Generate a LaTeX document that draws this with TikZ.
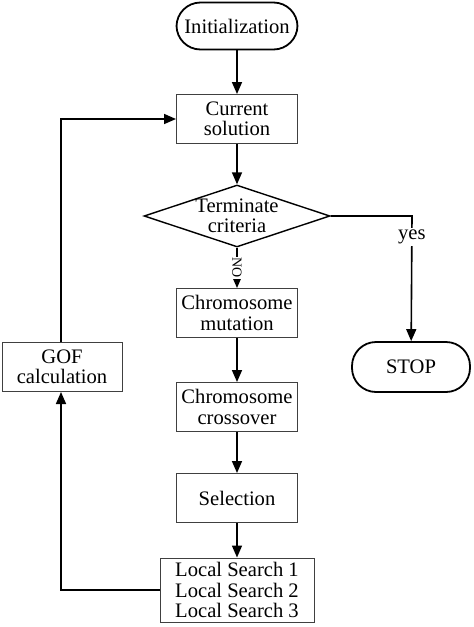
\documentclass[tikz,border=0pt]{standalone}
\usepackage{fontspec}
\setmainfont{Liberation Serif}
\usetikzlibrary{arrows.meta,shapes.geometric}
\tikzset{
  stepbox/.style={draw=black!75, line width=0.5pt, minimum width=60.5pt, minimum height=24.5pt, inner sep=2pt, align=center, font=\fontsize{10.3}{10.2}\selectfont},
  termbox/.style={stepbox, draw=black, line width=0.9pt, rounded corners=12pt},
  decbox/.style={draw=black, line width=0.7pt, shape=diamond, aspect=3, inner sep=0pt, minimum width=90pt, minimum height=30pt, align=center, font=\fontsize{10.3}{10.2}\selectfont},
  flow/.style={line width=0.8pt, -{Triangle[length=6pt,width=5pt]}}
}
\begin{document}
\begin{tikzpicture}[x=0.5pt,y=-0.5pt]
  \useasboundingbox (0,0) rectangle (474,627);
  % main column
  \node[termbox, minimum height=23.5pt] (init) at (237,26) {Initialization};
  \node[stepbox] (current) at (237,119) {Current\\solution};
  \node[decbox] (crit) at (237,216) {Terminate\\criteria};
  \node[stepbox] (mutation) at (237,313) {Chromosome\\mutation};
  \node[stepbox] (crossover) at (237,407) {Chromosome\\crossover};
  \node[stepbox] (select) at (237,498) {Selection};
  \node[stepbox, minimum width=77pt, minimum height=32pt] (local) at (237,590) {Local Search 1\\Local Search 2\\Local Search 3};
  % side boxes
  \node[stepbox, minimum width=60pt] (gof) at (62,367) {GOF\\calculation};
  \node[termbox, minimum width=59pt, minimum height=25pt] (stop) at (411,367) {STOP};
  \coordinate (yescorner) at (412,216);
  \coordinate (loopbot) at (61,590);
  \coordinate (looptop) at (61,119);

  % arrows
  \draw[flow] (init) -- (current);
  \draw[flow] (current) -- (crit);
  \draw[flow] (crit) -- node[rotate=-90, fill=white, inner sep=0.5pt, font=\fontsize{7}{7}\selectfont] {NO} (mutation);
  \draw[flow] (mutation) -- (crossover);
  \draw[flow] (crossover) -- (select);
  \draw[flow] (select) -- (local);
  \draw[flow] (crit.east) -- (yescorner) -- node[pos=0.17, fill=white, inner sep=1pt, font=\fontsize{10.3}{10}\selectfont] {yes} (stop);
  \draw[flow] (local.west) -- (loopbot) -- (gof.south -| loopbot);
  \draw[flow] (gof.north -| looptop) -- (looptop) -- (current.west);
\end{tikzpicture}
\end{document}
